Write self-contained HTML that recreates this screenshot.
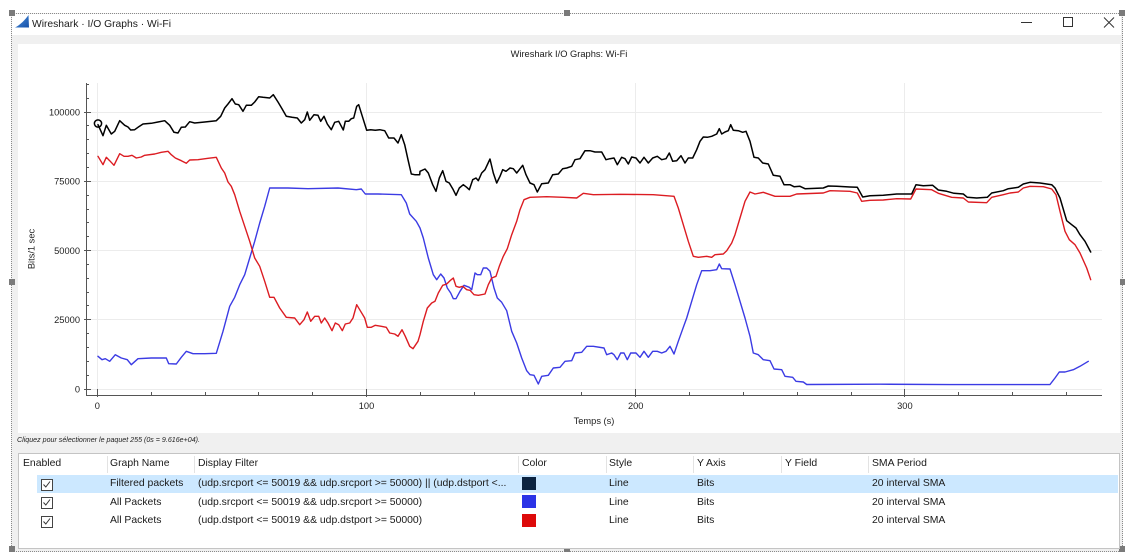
<!DOCTYPE html>
<html><head><meta charset="utf-8">
<style>
html,body{margin:0;padding:0}
body{width:1132px;height:560px;position:relative;overflow:hidden;background:#fff;font-family:"Liberation Sans",Arial,sans-serif;color:#1a1a1a}
.abs{position:absolute}
.win{left:11px;top:13px;width:1110px;height:537px;border:1px dotted #8a8a8a;background:#f0f0f0}
.titlebar{left:12px;top:14px;width:1109px;height:21px;background:#fff}
.h{position:absolute;width:6px;height:6px;background:#7a7a7a}
.panel{left:18px;top:44px;width:1102px;height:389px;background:#fff}
.status{left:17px;top:436px;font-size:7.1px;font-style:italic;color:#222;white-space:nowrap}
.tbl{left:18px;top:453px;width:1100px;height:94px;border:1px solid #c4c4c4;background:#fff}
.t{position:absolute;font-size:10.4px;white-space:nowrap;line-height:12px;color:#1a1a1a}
.sep{position:absolute;top:456px;width:1px;height:17px;background:#e3e3e3}
.cb{position:absolute;left:41px;width:10px;height:10px;border:1px solid #444;background:#fff}
.sw{position:absolute;left:522px;width:14px;height:13px}
</style></head><body>
<div class="abs win"></div>
<div class="abs titlebar"></div>
<div class="h" style="left:9px;top:10px"></div>
<div class="h" style="left:564px;top:10px"></div>
<div class="h" style="left:1119px;top:10px"></div>
<div class="h" style="left:9px;top:279px"></div>
<div class="h" style="left:1119px;top:279px"></div>
<div class="h" style="left:9px;top:546px"></div>
<div class="h" style="left:564px;top:546px"></div>
<div class="h" style="left:1119px;top:546px"></div>

<svg class="abs" style="left:0;top:0" width="1132" height="40">
  <defs><linearGradient id="fin" x1="0" y1="0" x2="1" y2="1"><stop offset="0" stop-color="#4f93e0"/><stop offset="1" stop-color="#1550a8"/></linearGradient></defs>
  <path d="M15,27.5 C20,25 25,20 28.5,15 L29,27.5 Z" fill="url(#fin)"/>
  <text x="32" y="27" font-size="10.3" fill="#1a1a1a" font-family="Liberation Sans, sans-serif">Wireshark · I/O Graphs · Wi-Fi</text>
  <line x1="1021" y1="22.5" x2="1032" y2="22.5" stroke="#333" stroke-width="1"/>
  <rect x="1063.5" y="17.5" width="9" height="9" fill="none" stroke="#333" stroke-width="1"/>
  <path d="M1104,17.5 L1114,27.5 M1114,17.5 L1104,27.5" stroke="#333" stroke-width="1"/>
</svg>

<div class="abs panel"></div>

<svg class="abs" style="left:0;top:0" width="1132" height="440" font-family="Liberation Sans, sans-serif">
  <text x="569" y="57" font-size="9.3" text-anchor="middle" fill="#1a1a1a">Wireshark I/O Graphs: Wi-Fi</text>
  <!-- grid -->
  <g stroke="#ececec" stroke-width="1">
    <path d="M87,112.5H1102 M87,181.5H1102 M87,250.5H1102 M87,319.5H1102 M87,389.5H1102"/>
    <path d="M97.5,83V395 M366.5,83V395 M635.5,83V395 M904.5,83V395"/>
  </g>
  <!-- axes -->
  <g stroke="#555" stroke-width="1" fill="none">
    <path d="M86.5,83V396 M86,395.5H1102"/>
    <path d="M84,112.5H91 M84,181.5H91 M84,250.5H91 M84,319.5H91 M84,389.5H91"/>
    <path d="M86,375.5H89 M86,361.5H89 M86,347.5H89 M86,333.5H89 M86,305.5H89 M86,292.5H89 M86,278.5H89 M86,264.5H89 M86,236.5H89 M86,222.5H89 M86,209.5H89 M86,195.5H89 M86,167.5H89 M86,153.5H89 M86,139.5H89 M86,125.5H89 M86,98.5H89 M86,84.5H89"/>
    <path d="M97.5,389V397 M366.5,389V397 M635.5,389V397 M904.5,389V397"/>
    <path d="M151.5,392V396 M205.5,392V396 M258.5,392V396 M312.5,392V396 M420.5,392V396 M474.5,392V396 M528.5,392V396 M581.5,392V396 M689.5,392V396 M743.5,392V396 M797.5,392V396 M851.5,392V396 M958.5,392V396 M1012.5,392V396 M1066.5,392V396"/>
  </g>
  <g font-size="9.3" fill="#222">
    <text x="80" y="115.5" text-anchor="end">100000</text>
    <text x="80" y="184.7" text-anchor="end">75000</text>
    <text x="80" y="254" text-anchor="end">50000</text>
    <text x="80" y="323.2" text-anchor="end">25000</text>
    <text x="80" y="392.5" text-anchor="end">0</text>
    <text x="97.3" y="409" text-anchor="middle">0</text>
    <text x="366.5" y="409" text-anchor="middle">100</text>
    <text x="635.7" y="409" text-anchor="middle">200</text>
    <text x="904.9" y="409" text-anchor="middle">300</text>
    <text x="594" y="424" text-anchor="middle">Temps (s)</text>
    <text x="0" y="0" text-anchor="middle" transform="translate(34.5,249) rotate(-90)">Bits/1 sec</text>
  </g>
  <!-- series -->
  <g fill="none" stroke-linejoin="round" stroke-linecap="round">
    <polyline stroke="#3b3be4" stroke-width="1.4" points="98,356.3 102,359.7 105.3,358.7 109.7,361.3 115.3,354.7 121.3,358 127.3,359.7 131.3,364.7 138,358.7 151.3,358 166.3,358 168.7,363.7 176.3,364 181.3,357.3 186.3,351.3 193,353.7 204.7,353.7 216.3,353.3 223,331.3 229.7,306.3 234.7,297.3 239.7,284.7 244.7,274.7 249.7,258 254.7,241.3 259.7,223 264.7,206.3 269.7,188 288,188 308,188.7 338,188 356.3,189.7 361.3,189 365.3,194 378,194 401.3,194.7 406.3,203 409.7,214 416.3,221.3 420,228 423.3,238 428.3,258 433.3,274.7 436.7,279.7 440.7,274 444,278 447.3,288 450.7,293 453.3,298.7 456,298.7 460,291.3 464,285.3 469.3,287.3 471.7,289.7 475,273 477.3,274.7 480.7,274.7 483.3,268 486.7,268 490,271.3 494,288 497.3,298 501.7,302.3 506.7,310.7 511.7,331.3 516.7,343 521.7,358 526.7,370.7 530,374.7 534,375.3 538.3,384 541.7,376.3 548.3,375.3 553.3,368 560,367.3 565,361.3 571.7,360.7 575,353 581.7,352.3 586.7,346.3 593.3,346.3 604,348 606.7,354.7 611.7,353 614,354.7 617.3,359.7 620.7,353 624,353 627.3,359.7 630.7,353 636,353 640,357.3 644,351.3 648.3,357.3 652.7,351.3 657.3,351.3 661.7,353 666,351.3 670,346.3 674,354 678.3,341.3 683.3,327.3 686.7,318 691.7,301.3 696.7,284.7 701.7,270.7 710,270.7 716.7,269.7 719.3,264 721.7,268.7 730,269 735,284.7 740,301.3 745,318 750,336.3 753.3,353 758.3,354.7 763.3,359.7 770,360.7 774,369 781.7,369.7 785,376.3 792.7,377.3 796,381.3 803.3,382 806.7,384.5 880,384.2 950,384.6 1050,384.5 1055,378 1059.3,372 1065,372 1073.3,369.7 1080,366.3 1088.3,361.3"/>
    <polyline stroke="#dc1c22" stroke-width="1.4" points="98,156.3 103,164.7 106.3,157.3 109.7,160.7 114,165.3 119.7,153.7 124,156.3 128,156.3 132,155.3 136.3,158 141.3,157 144.7,155.3 154.7,154 161.3,152.3 168,151.3 171.3,154.7 175.3,158 181.3,160.7 186.3,163.3 189.7,160 198,159.7 208,158.3 216.3,157.3 221.3,168 224.7,173 228,182 231.3,186.3 234.7,194.7 239.7,211.3 244.7,226.3 249.7,241.3 254.7,258 259.7,266.3 264.7,281.3 269.7,297.3 274,297.3 279.7,308 286.3,317.3 294.7,318 299.7,324.7 304,319.7 307.3,312 310.7,321.3 314.7,316.3 318.7,316.3 321.3,323 324.7,318 328,323 332,330.7 335.3,323 338.7,324.7 342.3,330.7 345.3,324 349.7,323 353,318 356.7,304.7 359.7,309.7 364.7,318 367.3,327.3 371.3,327.3 375.3,325.3 381.3,326.3 386.3,327.3 389.7,333 394.7,334 398,336.3 402,329.7 405.3,336.3 409.7,346.3 413,348.7 418,341.3 420,334.7 423.3,321.3 427.3,308 431.7,303 435,301.3 438.3,293 442.7,285.3 446.7,284 450,280.7 453.3,278 456,286.3 459.3,287.3 462.7,286.3 466.7,289.7 470,290.3 474,294.7 478.3,295.3 485,294 488.3,284.7 491.7,278 496,276.3 499.3,266.3 503.3,256.3 507.3,248.7 511.7,234.7 516.7,221.3 520,209.7 524,199.7 530,197.3 546.7,196.7 563.3,197.3 576.7,198 583.3,193.3 593.3,194.7 620,194.3 653.3,194.7 674,196.3 678.3,208 683.3,224.7 688.3,241.3 693.3,256.3 698.3,257.3 706.7,256.3 711.7,257.3 715,254.7 723.3,254 726.7,250.7 731.7,243 735,234.7 740,218 745,201.3 750,192 755,194 763.3,192.3 775,196.3 790,196.3 796.7,194 823.3,193 830,190.7 850,191.3 857.3,193 861.7,201.3 870,200.3 883.3,200 896.7,198.7 910.7,199 916,189 931.7,189.7 938.3,193.3 951.7,197.3 963.3,198 968.3,202 986.7,202.7 991.7,197.3 1003.3,194.7 1010,193 1018.3,192 1023.3,188 1030,186.3 1043.3,186.7 1051.7,189 1056,194.7 1060,211.3 1065,231.3 1069.3,239.7 1075,244.7 1080,253 1086.7,268 1090.7,279.7"/>
    <polyline stroke="#000" stroke-width="1.5" points="98,124.7 103,135.7 106.3,125.3 111.3,134 114.7,131.3 119.7,120.7 124.7,125.3 128,127 130.7,130 134.7,129.7 138,127.3 143,124 151.3,123.3 158,122 164.7,120.7 169.7,125.3 174,132.3 178,133 181.3,127.3 185.3,127 189.7,121.7 194.7,123 204.7,122 216.3,120.7 220.7,116.3 224.7,108 228,104 232,98.7 235.3,104 238.7,104.7 243,111.3 246.3,105.3 251.3,105.3 254.7,102 258.7,96.7 263,97.3 269.7,98 273.3,94.7 278,102 282,108.7 286.3,116.3 292,117.3 297.3,118 301.3,123 304.7,119.7 307.3,112 309.7,120.3 314,114.7 318,115.3 320.7,121.3 324,116.3 327.3,124 331.3,129.7 334.7,122.3 338.7,121.3 343.3,130 345.3,121.3 348.7,121.3 351.3,118.7 353.7,118 356.7,106.3 358.7,104.7 362,115.3 366.7,130.3 370.7,129.7 375.3,130.3 379.7,129.7 384.7,130.7 388.7,138 394,138 398,143 401.3,134.7 404.7,144.7 408,159.7 411.3,174 414.7,174.7 419.7,174.7 420,171.3 425,169 428.3,173 432.7,184.7 436,191.3 439.3,178 442.7,170.7 446,181.3 449.3,183 452.7,188.7 456,195.3 459.3,188 463.3,184.7 466.7,187.3 469.3,189.7 472.7,179.7 476,178 478.3,180.7 481.7,173 485,169.7 490,159 493.3,173 496.7,183 500,176.3 502.7,169.7 506,171.3 510,168 513.3,168.7 516.7,173 519.3,169.7 522.7,165.3 526,174.7 530,183 534,184.7 537.3,192 541.7,183.7 548.3,183 552.7,174.7 558.3,174 562.7,168.7 566.7,168 571.7,166.3 575,159.7 580,158.7 585,150.7 590,150.7 595,152 601.7,152 606,159.7 610,158.7 614,158 617.3,164.7 621.7,157.3 625,158.7 628.3,164 631.7,157 636,158 640,163 644,157.3 648.3,163 652.7,158 657.3,156.3 661.7,159.7 666,158.7 669.3,153 672.7,161.3 676.7,160.7 681,155.7 685,163 688.3,158 692.7,158 696.7,149.7 700,141.3 703.3,137 707.3,137.3 711.7,136.3 716.7,134 719.3,128.7 721.7,134 725,132 728.3,130.7 730.7,124.7 733.3,130.3 738.3,130.7 742.7,132.3 746,131.3 750,141.3 754,157.3 758.3,158 762.7,163 768.3,164 773.3,175.3 780,176.3 784,184.7 790,184.7 794,186.7 800,186.3 805,188.7 823.3,188 828.3,186 836.7,186.3 850,187 857.3,187.3 862.7,197 870,195.7 883.3,195.3 896.7,194 911.7,194 916,184.7 923.3,185.7 932.7,185.3 938.3,190 946.7,191.3 954,193.3 963.3,194 967.3,197.3 976.7,198 987.3,197.3 991.7,193 1003.3,190.7 1008.3,188.7 1018.3,187.3 1023.3,184 1030,182.3 1040,183 1051.7,184.7 1055,188 1060,198 1066.7,220.7 1071.7,224.7 1076,228 1080,234.7 1085,241.3 1090.7,252"/>
    <circle cx="98" cy="123.5" r="3.6" stroke="#000" stroke-width="1.5"/>
  </g>
</svg>

<div class="abs status">Cliquez pour sélectionner le paquet 255 (0s = 9.616e+04).</div>

<div class="abs tbl"></div>
<div class="abs" style="left:37px;top:475px;width:1081px;height:18px;background:#cce8ff"></div>
<div class="sep" style="left:107px"></div>
<div class="sep" style="left:194px"></div>
<div class="sep" style="left:518px"></div>
<div class="sep" style="left:606px"></div>
<div class="sep" style="left:693px"></div>
<div class="sep" style="left:781px"></div>
<div class="sep" style="left:868px"></div>

<div class="t" style="left:23px;top:458px">Enabled</div>
<div class="t" style="left:110px;top:458px">Graph Name</div>
<div class="t" style="left:198px;top:458px">Display Filter</div>
<div class="t" style="left:522px;top:458px">Color</div>
<div class="t" style="left:609px;top:458px">Style</div>
<div class="t" style="left:697px;top:458px">Y Axis</div>
<div class="t" style="left:785px;top:458px">Y Field</div>
<div class="t" style="left:872px;top:458px">SMA Period</div>

<div class="cb" style="top:479px"></div>
<div class="cb" style="top:497px"></div>
<div class="cb" style="top:516px"></div>
<svg class="abs" style="left:0;top:0" width="60" height="540">
  <g fill="none" stroke="#333" stroke-width="1">
    <path d="M43.5,484.5 L45.8,487 L50,481.5"/>
    <path d="M43.5,502.5 L45.8,505 L50,499.5"/>
    <path d="M43.5,521.5 L45.8,524 L50,518.5"/>
  </g>
</svg>

<div class="t" style="left:110px;top:478px">Filtered packets</div>
<div class="t" style="left:198px;top:478px">(udp.srcport &lt;= 50019 &amp;&amp; udp.srcport &gt;= 50000) || (udp.dstport &lt;...</div>
<div class="sw" style="top:477px;background:#0c2340"></div>
<div class="t" style="left:609px;top:478px">Line</div>
<div class="t" style="left:697px;top:478px">Bits</div>
<div class="t" style="left:872px;top:478px">20 interval SMA</div>

<div class="t" style="left:110px;top:497px">All Packets</div>
<div class="t" style="left:198px;top:497px">(udp.srcport &lt;= 50019 &amp;&amp; udp.srcport &gt;= 50000)</div>
<div class="sw" style="top:495px;background:#2b33e6"></div>
<div class="t" style="left:609px;top:497px">Line</div>
<div class="t" style="left:697px;top:497px">Bits</div>
<div class="t" style="left:872px;top:497px">20 interval SMA</div>

<div class="t" style="left:110px;top:515px">All Packets</div>
<div class="t" style="left:198px;top:515px">(udp.dstport &lt;= 50019 &amp;&amp; udp.dstport &gt;= 50000)</div>
<div class="sw" style="top:514px;background:#dd0a0a"></div>
<div class="t" style="left:609px;top:515px">Line</div>
<div class="t" style="left:697px;top:515px">Bits</div>
<div class="t" style="left:872px;top:515px">20 interval SMA</div>
</body></html>
